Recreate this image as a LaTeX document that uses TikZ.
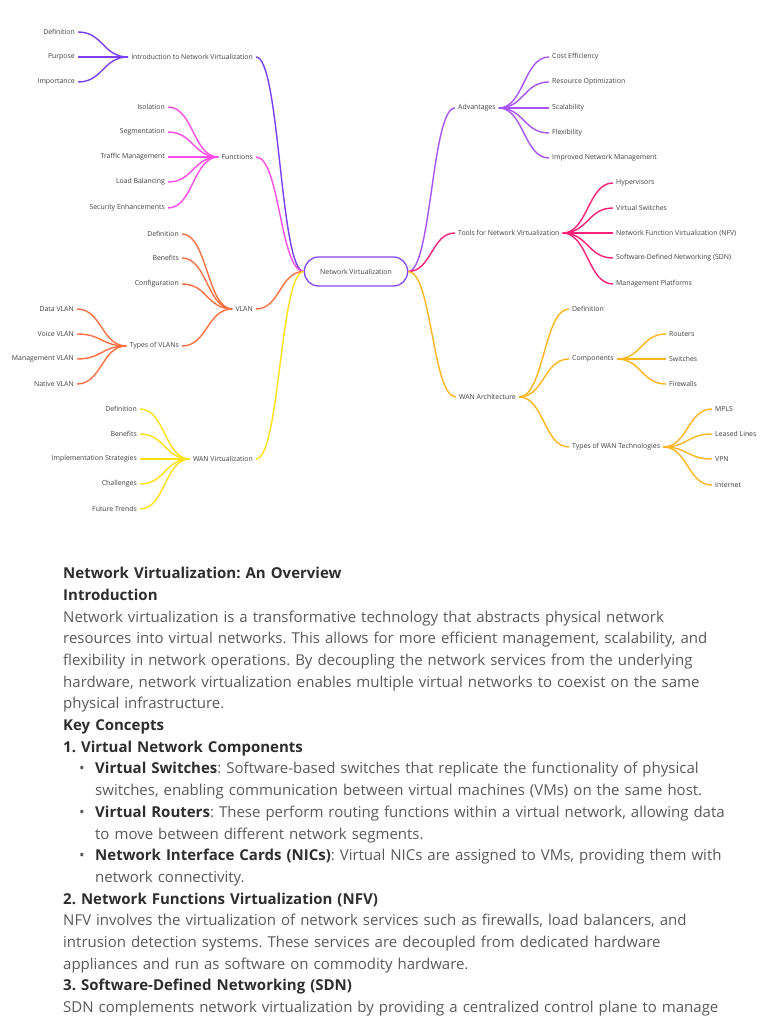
\documentclass[tikz,border=0pt]{standalone}
\usepackage{fontspec}
\setmainfont{Open Sans}
\usepackage{xcolor}
\usepackage{tikz}
\usetikzlibrary{calc}

\definecolor{rootC}{HTML}{8A45F5}
\definecolor{introC}{HTML}{7B3FF6}
\definecolor{funcC}{HTML}{FF4DE6}
\definecolor{vlanC}{HTML}{FF7043}
\definecolor{wanVirtC}{HTML}{FFE014}
\definecolor{advC}{HTML}{A855F7}
\definecolor{toolsC}{HTML}{FF2079}
\definecolor{wanArchC}{HTML}{FFB61E}
\definecolor{labelC}{HTML}{404040}
\definecolor{bodyC}{HTML}{5A5A5A}
\definecolor{headC}{HTML}{2E2E2E}

\begin{document}
\frenchspacing
\begin{tikzpicture}[
        x=1pt, y=-1pt,
        topic/.style={font=\fontsize{6.9}{8}\selectfont, text=labelC, inner xsep=3pt, inner ysep=1pt},
        rootbox/.style={draw=rootC, line width=1.3pt, rounded corners=14pt, minimum width=103pt, minimum height=29pt, font=\fontsize{6.9}{8}\selectfont, text=labelC},
        link/.style={line width=1.4pt, to path={let \p1=(\tikztostart), \p2=(\tikztotarget) in .. controls ({(\x1+\x2)/2},\y1) and ({(\x1+\x2)/2},\y2) .. (\tikztotarget)}},
        body/.style={anchor=north west, align=left, text width=705pt, inner sep=0pt, text=bodyC, font=\fontsize{15}{21.7}\selectfont}
    ]

        \useasboundingbox[fill=white] (0,0) rectangle (768,1024);

        \node[rootbox] (root) at (356,271.5) {Network Virtualization};

        \node[topic, anchor=east] (intro) at (256,57) {Introduction to Network Virtualization};
        \node[topic, anchor=east] (introDef) at (78,32) {Definition};
        \node[topic, anchor=east] (introPur) at (78,57) {Purpose};
        \node[topic, anchor=east] (introImp) at (78,82) {Importance};

        \node[topic, anchor=east] (func) at (256,157) {Functions};
        \node[topic, anchor=east] (funcIso) at (168,107) {Isolation};
        \node[topic, anchor=east] (funcSeg) at (168,132) {Segmentation};
        \node[topic, anchor=east] (funcTraf) at (168,157) {Traffic Management};
        \node[topic, anchor=east] (funcLoad) at (168,182) {Load Balancing};
        \node[topic, anchor=east] (funcSec) at (168,208) {Security Enhancements};

        \node[topic, anchor=east] (vlan) at (256,309) {VLAN};
        \node[topic, anchor=east] (vlanDef) at (182,234) {Definition};
        \node[topic, anchor=east] (vlanBen) at (182,258) {Benefits};
        \node[topic, anchor=east] (vlanConf) at (182,284) {Configuration};
        \node[topic, anchor=east] (vlanTypes) at (182,346) {Types of VLANs};
        \node[topic, anchor=east] (vlanData) at (77,309) {Data VLAN};
        \node[topic, anchor=east] (vlanVoice) at (77,334) {Voice VLAN};
        \node[topic, anchor=east] (vlanMgmt) at (77,359) {Management VLAN};
        \node[topic, anchor=east] (vlanNative) at (77,384) {Native VLAN};

        \node[topic, anchor=east] (wanVirt) at (256,459) {WAN Virtualization};
        \node[topic, anchor=east] (wanVirtDef) at (140,409) {Definition};
        \node[topic, anchor=east] (wanVirtBen) at (140,434) {Benefits};
        \node[topic, anchor=east] (wanVirtImpl) at (140,459) {Implementation Strategies};
        \node[topic, anchor=east] (wanVirtChal) at (140,484) {Challenges};
        \node[topic, anchor=east] (wanVirtFut) at (140,509) {Future Trends};

        \node[topic, anchor=west] (adv) at (455,108) {Advantages};
        \node[topic, anchor=west] (advCost) at (549,57) {Cost Efficiency};
        \node[topic, anchor=west] (advRes) at (549,82) {Resource Optimization};
        \node[topic, anchor=west] (advScal) at (549,108) {Scalability};
        \node[topic, anchor=west] (advFlex) at (549,133) {Flexibility};
        \node[topic, anchor=west] (advMgmt) at (549,158) {Improved Network Management};

        \node[topic, anchor=west] (tools) at (455,233) {Tools for Network Virtualization};
        \node[topic, anchor=west] (toolsHyp) at (613,183) {Hypervisors};
        \node[topic, anchor=west] (toolsSw) at (613,208) {Virtual Switches};
        \node[topic, anchor=west] (toolsNfv) at (613,233) {Network Function Virtualization (NFV)};
        \node[topic, anchor=west] (toolsSdn) at (613,258) {Software-Defined Networking (SDN)};
        \node[topic, anchor=west] (toolsMgmt) at (613,284) {Management Platforms};

        \node[topic, anchor=west] (wanArch) at (456,397) {WAN Architecture};
        \node[topic, anchor=west] (wanArchDef) at (569,309) {Definition};
        \node[topic, anchor=west] (wanArchComp) at (569,359) {Components};
        \node[topic, anchor=west] (wanArchTypes) at (569,447) {Types of WAN Technologies};
        \node[topic, anchor=west] (compRout) at (666,334) {Routers};
        \node[topic, anchor=west] (compSw) at (666,359) {Switches};
        \node[topic, anchor=west] (compFw) at (666,384) {Firewalls};
        \node[topic, anchor=west] (techMpls) at (712,409) {MPLS};
        \node[topic, anchor=west] (techLeased) at (712,434) {Leased Lines};
        \node[topic, anchor=west] (techVpn) at (712,459) {VPN};
        \node[topic, anchor=west] (techInet) at (712,485) {Internet};

        \draw[link, introC] (root.west) to (intro.east);
        \draw[link, introC] (intro.west) to (introDef.east);
        \draw[link, introC] (intro.west) to (introPur.east);
        \draw[link, introC] (intro.west) to (introImp.east);

        \draw[link, funcC] (root.west) to (func.east);
        \draw[link, funcC] (func.west) to (funcIso.east);
        \draw[link, funcC] (func.west) to (funcSeg.east);
        \draw[link, funcC] (func.west) to (funcTraf.east);
        \draw[link, funcC] (func.west) to (funcLoad.east);
        \draw[link, funcC] (func.west) to (funcSec.east);

        \draw[link, vlanC] (root.west) to (vlan.east);
        \draw[link, vlanC] (vlan.west) to (vlanDef.east);
        \draw[link, vlanC] (vlan.west) to (vlanBen.east);
        \draw[link, vlanC] (vlan.west) to (vlanConf.east);
        \draw[link, vlanC] (vlan.west) to (vlanTypes.east);
        \draw[link, vlanC] (vlanTypes.west) to (vlanData.east);
        \draw[link, vlanC] (vlanTypes.west) to (vlanVoice.east);
        \draw[link, vlanC] (vlanTypes.west) to (vlanMgmt.east);
        \draw[link, vlanC] (vlanTypes.west) to (vlanNative.east);

        \draw[link, wanVirtC] (root.west) to (wanVirt.east);
        \draw[link, wanVirtC] (wanVirt.west) to (wanVirtDef.east);
        \draw[link, wanVirtC] (wanVirt.west) to (wanVirtBen.east);
        \draw[link, wanVirtC] (wanVirt.west) to (wanVirtImpl.east);
        \draw[link, wanVirtC] (wanVirt.west) to (wanVirtChal.east);
        \draw[link, wanVirtC] (wanVirt.west) to (wanVirtFut.east);

        \draw[link, advC] (root.east) to (adv.west);
        \draw[link, advC] (adv.east) to (advCost.west);
        \draw[link, advC] (adv.east) to (advRes.west);
        \draw[link, advC] (adv.east) to (advScal.west);
        \draw[link, advC] (adv.east) to (advFlex.west);
        \draw[link, advC] (adv.east) to (advMgmt.west);

        \draw[link, toolsC] (root.east) to (tools.west);
        \draw[link, toolsC] (tools.east) to (toolsHyp.west);
        \draw[link, toolsC] (tools.east) to (toolsSw.west);
        \draw[link, toolsC] (tools.east) to (toolsNfv.west);
        \draw[link, toolsC] (tools.east) to (toolsSdn.west);
        \draw[link, toolsC] (tools.east) to (toolsMgmt.west);

        \draw[link, wanArchC] (root.east) to (wanArch.west);
        \draw[link, wanArchC] (wanArch.east) to (wanArchDef.west);
        \draw[link, wanArchC] (wanArch.east) to (wanArchComp.west);
        \draw[link, wanArchC] (wanArch.east) to (wanArchTypes.west);
        \draw[link, wanArchC] (wanArchComp.east) to (compRout.west);
        \draw[link, wanArchC] (wanArchComp.east) to (compSw.west);
        \draw[link, wanArchC] (wanArchComp.east) to (compFw.west);
        \draw[link, wanArchC] (wanArchTypes.east) to (techMpls.west);
        \draw[link, wanArchC] (wanArchTypes.east) to (techLeased.west);
        \draw[link, wanArchC] (wanArchTypes.east) to (techVpn.west);
        \draw[link, wanArchC] (wanArchTypes.east) to (techInet.west);

        \node[body] (overview) at (63,567) {%
            {\bfseries\color{headC}Network Virtualization: An Overview}\\
            {\bfseries\color{headC}Introduction}\\
            Network virtualization is a transformative technology that abstracts physical network\\
            resources into virtual networks. This allows for more efficient management, scalability, and\\
            flexibility in network operations. By decoupling the network services from the underlying\\
            hardware, network virtualization enables multiple virtual networks to coexist on the same\\
            physical infrastructure.\\
            {\bfseries\color{headC}Key Concepts}\\
            {\bfseries\color{headC}1. Virtual Network Components}\\
            \hspace*{16pt}\makebox[16pt][l]{\textbullet}{\bfseries\color{headC}Virtual Switches}: Software-based switches that replicate the functionality of physical\\
            \hspace*{32pt}switches, enabling communication between virtual machines (VMs) on the same host.\\
            \hspace*{16pt}\makebox[16pt][l]{\textbullet}{\bfseries\color{headC}Virtual Routers}: These perform routing functions within a virtual network, allowing data\\
            \hspace*{32pt}to move between different network segments.\\
            \hspace*{16pt}\makebox[16pt][l]{\textbullet}{\bfseries\color{headC}Network Interface Cards (NICs)}: Virtual NICs are assigned to VMs, providing them with\\
            \hspace*{32pt}network connectivity.\\
            {\bfseries\color{headC}2. Network Functions Virtualization (NFV)}\\
            NFV involves the virtualization of network services such as firewalls, load balancers, and\\
            intrusion detection systems. These services are decoupled from dedicated hardware\\
            appliances and run as software on commodity hardware.\\
            {\bfseries\color{headC}3. Software-Defined Networking (SDN)}\\
            SDN complements network virtualization by providing a centralized control plane to manage};

    \end{tikzpicture}
\end{document}
